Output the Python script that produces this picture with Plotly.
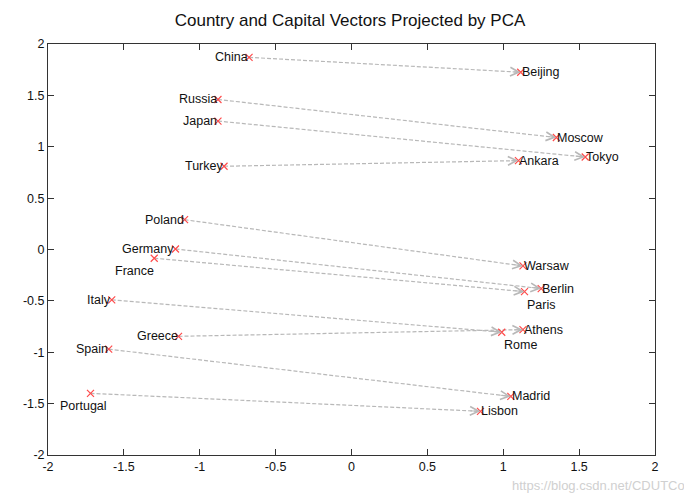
import plotly.graph_objects as go

# PCA projections
countries = ["China", "Russia", "Japan", "Turkey", "Poland", "Germany",
             "France", "Italy", "Greece", "Spain", "Portugal"]
country_x = [-0.675, -0.88, -0.88, -0.84, -1.10, -1.16, -1.30, -1.58, -1.14, -1.60, -1.72]
country_y = [1.87, 1.46, 1.25, 0.81, 0.29, 0.005, -0.085, -0.49, -0.845, -0.97, -1.40]

capitals = ["Beijing", "Moscow", "Tokyo", "Ankara", "Warsaw", "Berlin",
            "Paris", "Rome", "Athens", "Madrid", "Lisbon"]
capital_x = [1.115, 1.35, 1.54, 1.10, 1.13, 1.25, 1.14, 0.99, 1.13, 1.05, 0.85]
capital_y = [1.725, 1.09, 0.90, 0.865, -0.16, -0.38, -0.41, -0.805, -0.78, -1.43, -1.575]

ticks = [-2, -1.5, -1, -0.5, 0, 0.5, 1, 1.5, 2]
tick_text = ["-2", "-1.5", "-1", "-0.5", "0", "0.5", "1", "1.5", "2"]

# labels that sit under the marker instead of beside it
below = {"France": ("right", 2), "Paris": ("left", 0), "Rome": ("left", 0), "Portugal": ("center", -7)}

GREY = "#b8b8b8"
RED = "#ff4a4a"
FONT = "Liberation Sans, Arial, sans-serif"

fig = go.Figure()

# dashed connecting lines
lx, ly = [], []
for i in range(len(countries)):
    lx += [country_x[i], capital_x[i], None]
    ly += [country_y[i], capital_y[i], None]
fig.add_trace(go.Scatter(x=lx, y=ly, mode="lines", hoverinfo="skip",
                         line=dict(color=GREY, width=1.2, dash="4px,2px")))

# arrow heads at the capitals
for i in range(len(countries)):
    tx = capital_x[i] - 0.03 * (capital_x[i] - country_x[i])
    ty = capital_y[i] - 0.03 * (capital_y[i] - country_y[i])
    fig.add_annotation(x=capital_x[i], y=capital_y[i], ax=tx, ay=ty,
                       xref="x", yref="y", axref="x", ayref="y", text="",
                       showarrow=True, arrowhead=5, arrowsize=1.7,
                       arrowwidth=1, arrowcolor=GREY)

fig.add_trace(go.Scatter(x=country_x + capital_x, y=country_y + capital_y,
                         mode="markers", hoverinfo="skip",
                         marker=dict(symbol="x-thin", size=7, color=RED,
                                     line=dict(color=RED, width=1.2))))

def add_label(name, x, y, side):
    if name in below:
        anchor, shift = below[name]
        fig.add_annotation(x=x, y=y, text=name, showarrow=False,
                           xanchor=anchor, yanchor="top", xshift=shift, yshift=-4,
                           font=dict(size=12.5, color="#111", family=FONT))
    else:
        fig.add_annotation(x=x, y=y, text=name, showarrow=False,
                           xanchor=side, yanchor="middle",
                           xshift=-1 if side == "left" else 1,
                           font=dict(size=12.5, color="#111", family=FONT))

for i in range(len(countries)):
    add_label(countries[i], country_x[i], country_y[i], "right")
    add_label(capitals[i], capital_x[i], capital_y[i], "left")

axis = dict(range=[-2, 2], tickvals=ticks, ticktext=tick_text,
            ticks="inside", ticklen=6, tickcolor="#333", mirror="ticks",
            showline=True, linecolor="#333", linewidth=1,
            showgrid=False, zeroline=False,
            tickfont=dict(size=12.5, color="#111", family=FONT))

# page body has an 8px margin, so the figure is sized to end at the window edge
fig.update_layout(
    width=684, height=494,
    margin=dict(l=40, r=37, t=36, b=47),
    paper_bgcolor="white", plot_bgcolor="white",
    showlegend=False,
    title=dict(text="Country and Capital Vectors Projected by PCA",
               x=0.5, xanchor="center", y=0.976, yanchor="middle",
               font=dict(size=17, color="#111", family=FONT)),
    xaxis=axis, yaxis=axis,
)

fig.add_annotation(text="https://blog.csdn.net/CDUTCo", xref="paper", yref="paper",
                   x=1.052, y=-0.073, xanchor="right", yanchor="middle", showarrow=False,
                   font=dict(size=13, color="#d0d0d0", family=FONT))

fig.write_html("out.html")
